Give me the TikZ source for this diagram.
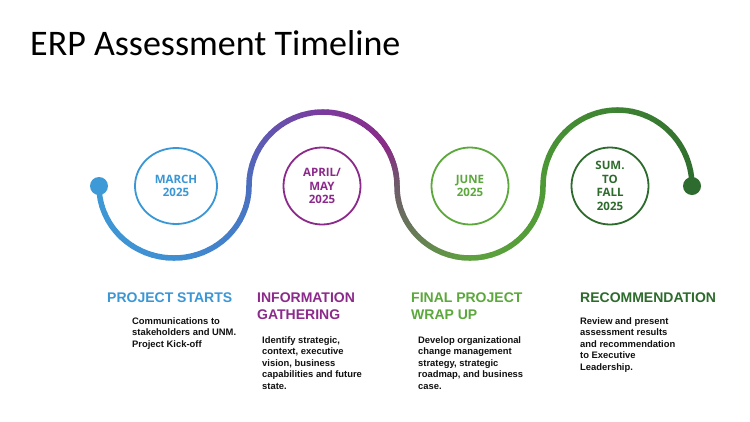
\documentclass[tikz,border=0pt]{standalone}
\usepackage{fontspec}
\usetikzlibrary{shapes.geometric}
\setmainfont{Liberation Sans}
\newfontfamily\titlefont{Carlito}
\newfontfamily\circfont{Open Sans}
\definecolor{cA}{HTML}{3E9AD6}
\definecolor{cB}{HTML}{3F8FD3}
\definecolor{cC}{HTML}{4A70C0}
\definecolor{cD}{HTML}{7B3B9F}
\definecolor{cE}{HTML}{8A2B86}
\definecolor{cF}{HTML}{6E5A6A}
\definecolor{cG}{HTML}{5EA23F}
\definecolor{cH}{HTML}{4E9A36}
\definecolor{cI}{HTML}{2E6B2E}
\definecolor{blueT}{HTML}{3A97D6}
\definecolor{purpleT}{HTML}{8C2A8C}
\definecolor{greenT}{HTML}{5BA83B}
\definecolor{dgreenT}{HTML}{2D6B2D}
\definecolor{bodyT}{HTML}{111111}
\newcommand{\gradarc}[8]{%
  \foreach \i in {0,...,15}{%
    \pgfmathsetmacro{\myaA}{#5+(#6-#5)*\i/16}%
    \pgfmathsetmacro{\myaB}{#5+(#6-#5)*(\i+1)/16}%
    \pgfmathtruncatemacro{\mypct}{100*(\i+0.5)/16}%
    \draw[pathline, color=#8!\mypct!#7] plot[domain=\myaA:\myaB, samples=4] ({#1+#3*cos(\x)},{#2+#4*sin(\x)});
  }}
\begin{document}
\begin{tikzpicture}[x=1pt,y=-1pt,
  pathline/.style={line width=5.5pt, line cap=round},
  datecirc/.style={circle, draw=#1, line width=1.8pt, minimum size=77pt, inner sep=0pt,
    text=#1, align=center, font=\circfont\bfseries\fontsize{11.5}{13.6}\selectfont},
  heading/.style={anchor=north west, inner sep=0pt, align=left, text=#1,
    font=\bfseries\fontsize{14}{17}\selectfont},
  bodytext/.style={anchor=north west, inner sep=0pt, align=left, text=bodyT,
    font=\bfseries\fontsize{9.4}{11.6}\selectfont},
  dot/.style={circle, fill=#1, minimum size=18pt, inner sep=0pt}]
\useasboundingbox[fill=white] (0,0) rectangle (750,421);

\node[anchor=base west, inner sep=0pt, font=\titlefont\fontsize{36}{40}\selectfont] (title) at (30,55) {ERP Assessment Timeline};

% gradient timeline curve
\gradarc{174}{186}{75}{72}{180}{90}{cA}{cB}
\gradarc{174}{186}{75}{72}{90}{0}{cB}{cC}
\gradarc{323}{186}{74}{74}{180}{270}{cC}{cD}
\gradarc{323}{186}{74}{74}{270}{330}{cD}{cE}
\gradarc{323}{186}{74}{74}{330}{360}{cE}{cF}
\gradarc{470}{186}{73}{72}{180}{90}{cF}{cG}
\gradarc{470}{186}{73}{72}{90}{0}{cG}{cH}
\gradarc{617.5}{186}{74.5}{76}{180}{360}{cH}{cI}

\node[dot=cA] (startdot) at (99,186) {};
\node[dot=cI] (enddot) at (692,186) {};

% date circles
\node[datecirc=blueT, ellipse, minimum width=82pt, minimum height=76pt] (c1) at (176,186) {MARCH\\2025};
\node[datecirc=purpleT] (c2) at (322,186) {APRIL/\\MAY\\2025};
\node[datecirc=greenT] (c3) at (470,186) {JUNE\\2025};
\node[datecirc=dgreenT] (c4) at (610,186) {SUM.\\TO\\FALL\\2025};

% headings
\node[heading=blueT] (h1) at (107,293) {PROJECT STARTS};
\node[heading=purpleT] (h2) at (257,293) {INFORMATION\\GATHERING};
\node[heading=greenT] (h3) at (411,293) {FINAL PROJECT\\WRAP UP};
\node[heading=dgreenT] (h4) at (580,293) {RECOMMENDATION};

% body texts
\node[bodytext] (b1) at (132,317) {Communications to\\stakeholders and UNM.\\Project Kick-off};
\node[bodytext] (b2) at (262,336) {Identify strategic,\\context, executive\\vision, business\\capabilities and future\\state.};
\node[bodytext] (b3) at (418,336) {Develop organizational\\change management\\strategy, strategic\\roadmap, and business\\case.};
\node[bodytext] (b4) at (580,317) {Review and present\\assessment results\\and recommendation\\to Executive\\Leadership.};
\end{tikzpicture}
\end{document}
